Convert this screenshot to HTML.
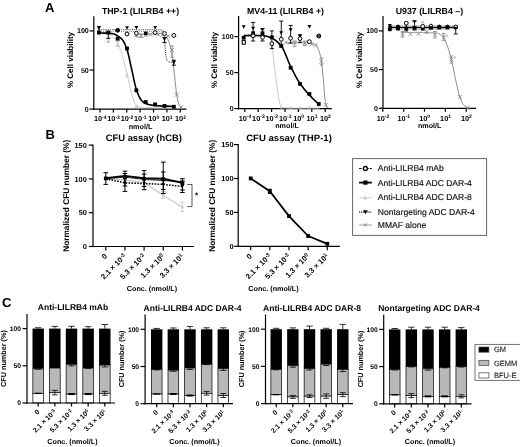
<!DOCTYPE html>
<html lang="en">
<head>
<meta charset="utf-8">
<title>Figure</title>
<style>
html,body{margin:0;padding:0;background:#fff;}
body{width:520px;height:447px;overflow:hidden;}
svg{display:block;font-family:"Liberation Sans",sans-serif;}
</style>
</head>
<body>
<svg width="520" height="447" viewBox="0 0 520 447" text-rendering="geometricPrecision">
<rect x="0" y="0" width="520" height="447" fill="#fff"/>
<text x="44.9" y="11.6" font-size="13" font-weight="bold" text-anchor="start" fill="#000" >A</text>
<text x="45.4" y="139.4" font-size="13" font-weight="bold" text-anchor="start" fill="#000" >B</text>
<text x="2" y="306.8" font-size="13" font-weight="bold" text-anchor="start" fill="#000" >C</text>
<line x1="93.8" y1="16.2" x2="93.8" y2="109.7" stroke="#000" stroke-width="1.2" />
<line x1="93.2" y1="109.1" x2="186.4" y2="109.1" stroke="#000" stroke-width="1.2" />
<line x1="89.6" y1="109.1" x2="93.8" y2="109.1" stroke="#000" stroke-width="1.2" />
<text x="88.8" y="111.6" font-size="7.1" font-weight="bold" text-anchor="end" fill="#000" >0</text>
<line x1="89.6" y1="70" x2="93.8" y2="70" stroke="#000" stroke-width="1.2" />
<text x="88.8" y="72.5" font-size="7.1" font-weight="bold" text-anchor="end" fill="#000" >50</text>
<line x1="89.6" y1="30.9" x2="93.8" y2="30.9" stroke="#000" stroke-width="1.2" />
<text x="88.8" y="33.4" font-size="7.1" font-weight="bold" text-anchor="end" fill="#000" >100</text>
<line x1="100" y1="109.1" x2="100" y2="112.5" stroke="#000" stroke-width="1.2" />
<text x="100.2" y="121.3" font-size="7.3" font-weight="bold" text-anchor="middle" fill="#000">10<tspan font-size="5" dy="-2.75">-4</tspan></text>
<line x1="113.38" y1="109.1" x2="113.38" y2="112.5" stroke="#000" stroke-width="1.2" />
<text x="113.58" y="121.3" font-size="7.3" font-weight="bold" text-anchor="middle" fill="#000">10<tspan font-size="5" dy="-2.75">-3</tspan></text>
<line x1="126.76" y1="109.1" x2="126.76" y2="112.5" stroke="#000" stroke-width="1.2" />
<text x="126.96" y="121.3" font-size="7.3" font-weight="bold" text-anchor="middle" fill="#000">10<tspan font-size="5" dy="-2.75">-2</tspan></text>
<line x1="140.14" y1="109.1" x2="140.14" y2="112.5" stroke="#000" stroke-width="1.2" />
<text x="140.34" y="121.3" font-size="7.3" font-weight="bold" text-anchor="middle" fill="#000">10<tspan font-size="5" dy="-2.75">-1</tspan></text>
<line x1="153.52" y1="109.1" x2="153.52" y2="112.5" stroke="#000" stroke-width="1.2" />
<text x="153.72" y="121.3" font-size="7.3" font-weight="bold" text-anchor="middle" fill="#000">10<tspan font-size="5" dy="-2.75">0</tspan></text>
<line x1="166.9" y1="109.1" x2="166.9" y2="112.5" stroke="#000" stroke-width="1.2" />
<text x="167.1" y="121.3" font-size="7.3" font-weight="bold" text-anchor="middle" fill="#000">10<tspan font-size="5" dy="-2.75">1</tspan></text>
<line x1="180.28" y1="109.1" x2="180.28" y2="112.5" stroke="#000" stroke-width="1.2" />
<text x="180.48" y="121.3" font-size="7.3" font-weight="bold" text-anchor="middle" fill="#000">10<tspan font-size="5" dy="-2.75">2</tspan></text>
<text x="140.5" y="13.7" font-size="8.8" font-weight="bold" text-anchor="middle" fill="#000" >THP-1 (LILRB4 ++)</text>
<text x="72.8" y="60" font-size="8.0" font-weight="bold" text-anchor="middle" fill="#000" transform="rotate(-90 72.8 60)" >% Cell viability</text>
<text x="140.5" y="128.7" font-size="7.2" font-weight="bold" text-anchor="middle" fill="#000" >nmol/L</text>
<polyline points="99.06,33.25 100.01,33.26 100.95,33.31 101.89,33.39 102.84,33.49 103.78,33.61 104.72,33.76 105.67,33.93 106.61,34.11 107.55,34.31 108.5,34.54 109.44,34.88 110.39,35.34 111.33,35.91 112.27,36.58 113.22,37.34 114.16,38.19 115.1,39.13 116.05,40.41 116.99,42.04 117.93,43.93 118.88,46.03 119.82,48.28 120.76,50.72 121.71,53.57 122.65,56.78 123.59,60.26 124.54,63.93 125.48,67.71 126.42,71.52 127.37,75.27 128.31,79.32 129.26,83.7 130.2,88.05 131.14,92.02 132.09,95.26 133.03,98.13 133.97,100.87 134.92,103.21 135.86,104.88 136.8,105.67 137.75,106.17 138.69,106.58 139.63,106.9 140.58,107.13 141.52,107.27 142.46,107.32 143.41,107.35 144.35,107.39 145.29,107.42 146.24,107.45 147.18,107.47 148.13,107.5 149.07,107.53 150.01,107.55 150.96,107.57 151.9,107.6 152.84,107.62 153.79,107.63 154.73,107.65 155.67,107.67 156.62,107.68 157.56,107.7 158.5,107.71 159.45,107.72 160.39,107.73 161.33,107.74 162.28,107.75 163.22,107.76 164.16,107.77 165.11,107.78 166.05,107.78 167,107.79 167.94,107.79 168.88,107.79 169.83,107.8 170.77,107.8 171.71,107.8 172.66,107.8 173.6,107.8" fill="none" stroke="#c9c9c9" stroke-width="1.0" stroke-linejoin="round" />
<polygon points="96.93,35.3 100.93,35.3 98.93,31.7" fill="#c9c9c9"/>
<polygon points="106.3,42.3 110.3,42.3 108.3,38.7" fill="#c9c9c9"/>
<polygon points="115.66,45.8 119.66,45.8 117.66,42.2" fill="#c9c9c9"/>
<polygon points="125.03,76.8 129.03,76.8 127.03,73.2" fill="#c9c9c9"/>
<polygon points="134.39,108.1 138.39,108.1 136.39,104.5" fill="#c9c9c9"/>
<path d="M108.3 38.5L108.3 42.5M106.2 38.5L110.4 38.5M106.2 42.5L110.4 42.5" stroke="#c9c9c9" stroke-width="0.9" fill="none"/>
<path d="M117.66 41.5L117.66 46.5M115.56 41.5L119.76 41.5M115.56 46.5L119.76 46.5" stroke="#c9c9c9" stroke-width="0.9" fill="none"/>
<polyline points="134.79,34.42 135.4,34.42 136.01,34.42 136.62,34.41 137.23,34.41 137.84,34.41 138.45,34.4 139.06,34.39 139.67,34.39 140.28,34.38 140.89,34.37 141.5,34.36 142.11,34.35 142.72,34.33 143.33,34.32 143.94,34.31 144.55,34.29 145.16,34.28 145.77,34.26 146.38,34.25 146.99,34.23 147.6,34.22 148.21,34.2 148.82,34.18 149.43,34.16 150.04,34.14 150.66,34.12 151.27,34.1 151.88,34.08 152.49,34.06 153.1,34.04 153.71,34.02 154.32,33.99 154.93,33.95 155.54,33.91 156.15,33.86 156.76,33.8 157.37,33.74 157.98,33.68 158.59,33.62 159.2,33.56 159.81,33.5 160.42,33.44 161.03,33.39 161.64,33.34 162.25,33.31 162.86,33.28 163.47,33.26 164.08,33.25 164.69,33.56 165.3,34.5 165.91,35.44 166.52,36.45 167.13,37.57 167.74,38.82 168.35,40.21 168.96,41.75 169.57,43.5 170.18,45.52 170.79,47.86 171.4,50.57 172.01,53.68 172.63,57.83 173.24,63.13 173.85,68.94 174.46,74.61 175.07,80.35 175.68,86.41 176.29,91.85 176.9,95.83 177.51,99.06 178.12,101.79 178.73,103.85 179.34,105.16 179.95,106.16 180.56,106.91 181.17,107.42 181.78,107.84 182.39,108.16 183,108.3" fill="none" stroke="#8c8c8c" stroke-width="1.0" stroke-linejoin="round" />
<path d="M134.5 33.2L138.5 37.2M134.5 37.2L138.5 33.2" stroke="#8c8c8c" stroke-width="0.9" fill="none"/>
<path d="M139 33.6L143 37.6M139 37.6L143 33.6" stroke="#8c8c8c" stroke-width="0.9" fill="none"/>
<path d="M143.6 33L147.6 37M143.6 37L147.6 33" stroke="#8c8c8c" stroke-width="0.9" fill="none"/>
<path d="M148.5 32.4L152.5 36.4M148.5 36.4L152.5 32.4" stroke="#8c8c8c" stroke-width="0.9" fill="none"/>
<path d="M156 32.6L160 36.6M156 36.6L160 32.6" stroke="#8c8c8c" stroke-width="0.9" fill="none"/>
<path d="M160.5 32.8L164.5 36.8M160.5 36.8L164.5 32.8" stroke="#8c8c8c" stroke-width="0.9" fill="none"/>
<path d="M166 34L170 38M166 38L170 34" stroke="#8c8c8c" stroke-width="0.9" fill="none"/>
<path d="M170 48L174 52M170 52L174 48" stroke="#8c8c8c" stroke-width="0.9" fill="none"/>
<path d="M174.7 92.7L178.7 96.7M174.7 96.7L178.7 92.7" stroke="#8c8c8c" stroke-width="0.9" fill="none"/>
<path d="M179 105L183 109M179 109L183 105" stroke="#8c8c8c" stroke-width="0.9" fill="none"/>
<path d="M141 34L141 37.4M139.2 34L142.8 34M139.2 37.4L142.8 37.4" stroke="#8c8c8c" stroke-width="0.9" fill="none"/>
<path d="M136.5 33.6L136.5 36.8M134.7 33.6L138.3 33.6M134.7 36.8L138.3 36.8" stroke="#8c8c8c" stroke-width="0.9" fill="none"/>
<path d="M172 46L172 57M170.2 46L173.8 46M170.2 57L173.8 57" stroke="#8c8c8c" stroke-width="0.9" fill="none"/>
<polyline points="98.93,29.73 99.87,29.73 100.82,29.73 101.77,29.73 102.71,29.73 103.66,29.73 104.6,29.73 105.55,29.73 106.49,29.73 107.44,29.73 108.38,29.73 109.33,29.73 110.27,29.73 111.22,29.73 112.16,29.73 113.11,29.73 114.05,29.73 115,29.73 115.94,29.73 116.89,29.73 117.83,29.73 118.78,29.73 119.72,29.73 120.67,29.73 121.61,29.73 122.56,29.73 123.5,29.73 124.45,29.73 125.4,29.73 126.34,29.73 127.29,29.73 128.23,29.73 129.18,29.73 130.12,29.73 131.07,29.73 132.01,29.73 132.96,29.73 133.9,29.73 134.85,29.73 135.79,29.73 136.74,29.73 137.68,29.73 138.63,29.73 139.57,29.73 140.52,29.73 141.46,29.73 142.41,29.73 143.35,29.73 144.3,29.73 145.24,29.73 146.19,29.73 147.13,29.73 148.08,29.73 149.02,29.73 149.97,29.73 150.92,29.73 151.86,29.73 152.81,29.73 153.75,29.73 154.7,29.73 155.64,29.73 156.59,29.73 157.53,29.73 158.48,29.73 159.42,29.73 160.37,29.74 161.31,29.91 162.26,30.29 163.2,30.9 164.15,36.14 165.09,47.56 166.04,56.9 166.98,60.3 167.93,61.27 168.87,61.83 169.82,62.14 170.76,62.31 171.71,62.45 172.65,62.54 173.6,62.57" fill="none" stroke="#222" stroke-width="0.95" stroke-linejoin="round" stroke-dasharray="1.1 1.1"/>
<line x1="98.93" y1="31.45" x2="165" y2="31.45" stroke="#777" stroke-width="0.8" stroke-dasharray="1 1"/>
<polyline points="98.93,33.01 99.88,33.01 100.83,33.02 101.77,33.04 102.72,33.06 103.67,33.08 104.62,33.11 105.57,33.14 106.52,33.17 107.47,33.21 108.41,33.25 109.36,33.31 110.31,33.4 111.26,33.51 112.21,33.65 113.16,33.82 114.1,34.11 115.05,34.51 116,35.01 116.95,35.56 117.9,36.12 118.85,36.71 119.8,37.37 120.74,38.12 121.69,39.01 122.64,40.07 123.59,41.49 124.54,43.34 125.49,45.54 126.43,48.01 127.38,50.75 128.33,54.25 129.28,58.34 130.23,62.72 131.18,67.04 132.13,71.2 133.07,75.67 134.02,80.17 134.97,84.4 135.92,88.04 136.87,90.91 137.82,93.47 138.76,95.77 139.71,97.73 140.66,99.28 141.61,100.43 142.56,101.43 143.51,102.29 144.46,102.98 145.4,103.49 146.35,103.82 147.3,104.11 148.25,104.37 149.2,104.6 150.15,104.8 151.09,104.98 152.04,105.14 152.99,105.27 153.94,105.38 154.89,105.48 155.84,105.57 156.79,105.64 157.73,105.71 158.68,105.77 159.63,105.83 160.58,105.88 161.53,105.93 162.48,105.97 163.42,106.01 164.37,106.05 165.32,106.08 166.27,106.11 167.22,106.14 168.17,106.17 169.12,106.2 170.06,106.22 171.01,106.24 171.96,106.26 172.91,106.27 173.86,106.28" fill="none" stroke="#000" stroke-width="1.6" stroke-linejoin="round" />
<polygon points="96.98,26.14 100.88,26.14 98.93,29.65" fill="#000"/>
<polygon points="125.08,26.14 128.98,26.14 127.03,29.65" fill="#000"/>
<polygon points="134.44,25.95 138.34,25.95 136.39,29.45" fill="#000"/>
<polygon points="153.18,25.95 157.08,25.95 155.13,29.45" fill="#000"/>
<path d="M164.49 37.6L164.49 42.4M162.39 37.6L166.59 37.6M162.39 42.4L166.59 42.4" stroke="#000" stroke-width="0.9" fill="none"/>
<polygon points="162.54,37.54 166.44,37.54 164.49,41.05" fill="#000"/>
<path d="M173.86 60.3L173.86 65.2M171.76 60.3L175.96 60.3M171.76 65.2L175.96 65.2" stroke="#000" stroke-width="0.9" fill="none"/>
<polygon points="171.91,60.84 175.81,60.84 173.86,64.36" fill="#000"/>
<path d="M108.3 32L108.3 38.3M106.2 32L110.4 32M106.2 38.3L110.4 38.3" stroke="#000" stroke-width="0.9" fill="none"/>
<path d="M98.93 26.6L98.93 33M97.13 26.6L100.73 26.6M97.13 33L100.73 33" stroke="#000" stroke-width="0.9" fill="none"/>
<circle cx="117.66" cy="30.3" r="1.9" fill="#000" stroke="#000" stroke-width="1.0"/>
<circle cx="127.03" cy="34" r="1.9" fill="#fff" stroke="#000" stroke-width="1.0"/>
<circle cx="136.39" cy="33.2" r="1.9" fill="#fff" stroke="#000" stroke-width="1.0"/>
<circle cx="155.13" cy="32.6" r="1.9" fill="#fff" stroke="#000" stroke-width="1.0"/>
<circle cx="164.49" cy="33.5" r="1.9" fill="#fff" stroke="#000" stroke-width="1.0"/>
<circle cx="173.86" cy="35.4" r="1.9" fill="#fff" stroke="#000" stroke-width="1.0"/>
<rect x="143.96" y="31.6" width="3.6" height="3.6" fill="#000"/>
<rect x="97.03" y="30.56" width="3.8" height="3.8" fill="#000"/>
<rect x="106.4" y="30.56" width="3.8" height="3.8" fill="#000"/>
<rect x="115.76" y="36.82" width="3.8" height="3.8" fill="#000"/>
<rect x="125.13" y="46.59" width="3.8" height="3.8" fill="#000"/>
<rect x="134.49" y="88.43" width="3.8" height="3.8" fill="#000"/>
<rect x="143.86" y="100.16" width="3.8" height="3.8" fill="#000"/>
<rect x="153.23" y="102.51" width="3.8" height="3.8" fill="#000"/>
<rect x="162.59" y="104.07" width="3.8" height="3.8" fill="#000"/>
<rect x="171.96" y="104.85" width="3.8" height="3.8" fill="#000"/>
<line x1="238.6" y1="15.9" x2="238.6" y2="109.2" stroke="#000" stroke-width="1.2" />
<line x1="238" y1="108.6" x2="331.8" y2="108.6" stroke="#000" stroke-width="1.2" />
<line x1="234.4" y1="108.6" x2="238.6" y2="108.6" stroke="#000" stroke-width="1.2" />
<text x="233.6" y="111.1" font-size="7.1" font-weight="bold" text-anchor="end" fill="#000" >0</text>
<line x1="234.4" y1="72.6" x2="238.6" y2="72.6" stroke="#000" stroke-width="1.2" />
<text x="233.6" y="75.1" font-size="7.1" font-weight="bold" text-anchor="end" fill="#000" >50</text>
<line x1="234.4" y1="36.6" x2="238.6" y2="36.6" stroke="#000" stroke-width="1.2" />
<text x="233.6" y="39.1" font-size="7.1" font-weight="bold" text-anchor="end" fill="#000" >100</text>
<line x1="244.8" y1="108.6" x2="244.8" y2="112" stroke="#000" stroke-width="1.2" />
<text x="245" y="120.8" font-size="7.3" font-weight="bold" text-anchor="middle" fill="#000">10<tspan font-size="5" dy="-2.75">-4</tspan></text>
<line x1="258.2" y1="108.6" x2="258.2" y2="112" stroke="#000" stroke-width="1.2" />
<text x="258.4" y="120.8" font-size="7.3" font-weight="bold" text-anchor="middle" fill="#000">10<tspan font-size="5" dy="-2.75">-3</tspan></text>
<line x1="271.6" y1="108.6" x2="271.6" y2="112" stroke="#000" stroke-width="1.2" />
<text x="271.8" y="120.8" font-size="7.3" font-weight="bold" text-anchor="middle" fill="#000">10<tspan font-size="5" dy="-2.75">-2</tspan></text>
<line x1="285" y1="108.6" x2="285" y2="112" stroke="#000" stroke-width="1.2" />
<text x="285.2" y="120.8" font-size="7.3" font-weight="bold" text-anchor="middle" fill="#000">10<tspan font-size="5" dy="-2.75">-1</tspan></text>
<line x1="298.4" y1="108.6" x2="298.4" y2="112" stroke="#000" stroke-width="1.2" />
<text x="298.6" y="120.8" font-size="7.3" font-weight="bold" text-anchor="middle" fill="#000">10<tspan font-size="5" dy="-2.75">0</tspan></text>
<line x1="311.8" y1="108.6" x2="311.8" y2="112" stroke="#000" stroke-width="1.2" />
<text x="312" y="120.8" font-size="7.3" font-weight="bold" text-anchor="middle" fill="#000">10<tspan font-size="5" dy="-2.75">1</tspan></text>
<line x1="325.2" y1="108.6" x2="325.2" y2="112" stroke="#000" stroke-width="1.2" />
<text x="325.4" y="120.8" font-size="7.3" font-weight="bold" text-anchor="middle" fill="#000">10<tspan font-size="5" dy="-2.75">2</tspan></text>
<text x="285.5" y="13.7" font-size="8.8" font-weight="bold" text-anchor="middle" fill="#000" >MV4-11 (LILRB4 +)</text>
<text x="216.6" y="60" font-size="8.0" font-weight="bold" text-anchor="middle" fill="#000" transform="rotate(-90 216.6 60)" >% Cell viability</text>
<text x="287" y="128.2" font-size="7.2" font-weight="bold" text-anchor="middle" fill="#000" >nmol/L</text>
<polyline points="243.73,36.3 244.67,36.3 245.61,36.3 246.55,36.3 247.49,36.3 248.43,36.31 249.37,36.31 250.31,36.31 251.25,36.32 252.19,36.32 253.13,36.33 254.07,36.33 255.01,36.34 255.95,36.35 256.89,36.36 257.83,36.37 258.77,36.38 259.71,36.39 260.65,36.4 261.59,36.42 262.53,36.43 263.47,36.45 264.41,36.47 265.35,36.49 266.29,36.51 267.23,36.65 268.17,36.95 269.11,37.41 270.05,38.05 270.99,40.45 271.93,44.88 272.87,52.32 273.81,61.46 274.75,69.54 275.69,76.72 276.63,83.79 277.57,90.73 278.51,96.64 279.45,101.8 280.39,104.91 281.33,106.6 282.27,107.53 283.21,107.7 284.15,107.81 285.09,107.91 286.03,107.98 286.97,108.03 287.92,108.07 288.86,108.09 289.8,108.1 290.74,108.1 291.68,108.1 292.62,108.1 293.56,108.1 294.5,108.1 295.44,108.1 296.38,108.1 297.32,108.1 298.26,108.1 299.2,108.1 300.14,108.1 301.08,108.1 302.02,108.1 302.96,108.1 303.9,108.1 304.84,108.1 305.78,108.1 306.72,108.1 307.66,108.1 308.6,108.1 309.54,108.1 310.48,108.1 311.42,108.1 312.36,108.1 313.3,108.1 314.24,108.1 315.18,108.1 316.12,108.1 317.06,108.1 318,108.1" fill="none" stroke="#c9c9c9" stroke-width="1.0" stroke-linejoin="round" />
<polygon points="279.75,108.55 282.75,108.55 281.25,105.85" fill="#c9c9c9"/>
<polygon points="289.13,108.55 292.13,108.55 290.63,105.85" fill="#c9c9c9"/>
<polygon points="298.51,108.55 301.51,108.55 300.01,105.85" fill="#c9c9c9"/>
<polygon points="307.89,108.55 310.89,108.55 309.39,105.85" fill="#c9c9c9"/>
<polygon points="317.27,108.55 320.27,108.55 318.77,105.85" fill="#c9c9c9"/>
<polyline points="286,42.6 286.53,42.6 287.06,42.6 287.59,42.6 288.13,42.61 288.66,42.61 289.19,42.61 289.72,42.62 290.25,42.62 290.78,42.63 291.32,42.63 291.85,42.64 292.38,42.65 292.91,42.66 293.44,42.66 293.97,42.67 294.51,42.68 295.04,42.69 295.57,42.7 296.1,42.71 296.63,42.72 297.16,42.73 297.7,42.75 298.23,42.76 298.76,42.77 299.29,42.78 299.82,42.8 300.35,42.81 300.89,42.82 301.42,42.84 301.95,42.86 302.48,42.88 303.01,42.91 303.54,42.93 304.08,42.96 304.61,42.99 305.14,43.03 305.67,43.06 306.2,43.1 306.73,43.14 307.27,43.19 307.8,43.24 308.33,43.29 308.86,43.34 309.39,43.4 309.92,43.46 310.46,43.53 310.99,43.6 311.52,43.68 312.05,43.79 312.58,43.92 313.11,44.08 313.65,44.27 314.18,44.49 314.71,44.75 315.24,45.03 315.77,45.35 316.3,45.75 316.84,46.4 317.37,47.27 317.9,48.34 318.43,49.57 318.96,50.9 319.49,52.44 320.03,54.35 320.56,56.64 321.09,59.34 321.62,62.47 322.15,66.86 322.68,72.29 323.22,78.09 323.75,84.41 324.28,91.37 324.81,97.09 325.34,101.46 325.87,104.59 326.41,105.99 326.94,107.04 327.47,107.74 328,108" fill="none" stroke="#8c8c8c" stroke-width="1.0" stroke-linejoin="round" />
<path d="M284 40.5L288 44.5M284 44.5L288 40.5" stroke="#8c8c8c" stroke-width="0.9" fill="none"/>
<path d="M292.7 41.2L296.7 45.2M292.7 45.2L296.7 41.2" stroke="#8c8c8c" stroke-width="0.9" fill="none"/>
<path d="M302.8 41.2L306.8 45.2M302.8 45.2L306.8 41.2" stroke="#8c8c8c" stroke-width="0.9" fill="none"/>
<path d="M309.7 42.3L313.7 46.3M309.7 46.3L313.7 42.3" stroke="#8c8c8c" stroke-width="0.9" fill="none"/>
<path d="M313.9 43.2L317.9 47.2M313.9 47.2L317.9 43.2" stroke="#8c8c8c" stroke-width="0.9" fill="none"/>
<path d="M319.5 59.7L323.5 63.7M319.5 63.7L323.5 59.7" stroke="#8c8c8c" stroke-width="0.9" fill="none"/>
<path d="M324 102.8L328 106.8M324 106.8L328 102.8" stroke="#8c8c8c" stroke-width="0.9" fill="none"/>
<path d="M294.7 41L294.7 46.6M292.9 41L296.5 41M292.9 46.6L296.5 46.6" stroke="#8c8c8c" stroke-width="0.9" fill="none"/>
<path d="M304.8 41L304.8 45.5M303 41L306.6 41M303 45.5L306.6 45.5" stroke="#8c8c8c" stroke-width="0.9" fill="none"/>
<path d="M321.5 58L321.5 65M319.7 58L323.3 58M319.7 65L323.3 65" stroke="#8c8c8c" stroke-width="0.9" fill="none"/>
<line x1="243.73" y1="36.6" x2="281.25" y2="36.6" stroke="#999" stroke-width="0.7" stroke-dasharray="1 1"/>
<polyline points="243.73,35.5 244.68,35.48 245.63,35.46 246.58,35.44 247.53,35.43 248.48,35.42 249.43,35.41 250.38,35.41 251.33,35.4 252.28,35.4 253.23,35.4 254.18,35.4 255.13,35.41 256.08,35.42 257.03,35.44 257.98,35.46 258.93,35.48 259.88,35.51 260.83,35.54 261.78,35.57 262.73,35.61 263.68,35.7 264.63,35.84 265.58,36.03 266.52,36.27 267.47,36.55 268.42,36.86 269.37,37.21 270.32,37.57 271.27,37.95 272.22,38.35 273.17,38.83 274.12,39.38 275.07,40.02 276.02,40.74 276.97,41.53 277.92,42.4 278.87,43.34 279.82,44.36 280.77,45.44 281.72,46.62 282.67,48.15 283.62,49.98 284.57,52.06 285.52,54.32 286.47,56.67 287.42,59.07 288.37,61.43 289.32,63.69 290.27,65.78 291.22,67.68 292.17,69.55 293.12,71.42 294.07,73.25 295.02,75.05 295.97,76.81 296.92,78.51 297.87,80.14 298.82,81.69 299.77,83.15 300.72,84.52 301.67,85.84 302.62,87.1 303.57,88.32 304.52,89.49 305.47,90.62 306.42,91.72 307.37,92.79 308.32,93.84 309.27,94.87 310.22,95.89 311.17,96.88 312.12,97.86 313.07,98.81 314.02,99.74 314.97,100.64 315.92,101.52 316.87,102.37 317.82,103.2 318.77,104" fill="none" stroke="#000" stroke-width="1.6" stroke-linejoin="round" />
<path d="M253.11 22.4L253.11 41M251.01 22.4L255.21 22.4M251.01 41L255.21 41" stroke="#000" stroke-width="0.9" fill="none"/>
<path d="M262.49 28.6L262.49 41M260.39 28.6L264.59 28.6M260.39 41L264.59 41" stroke="#000" stroke-width="0.9" fill="none"/>
<path d="M271.87 30.9L271.87 48.6M269.77 30.9L273.97 30.9M269.77 48.6L273.97 48.6" stroke="#000" stroke-width="0.9" fill="none"/>
<path d="M281.25 21.1L281.25 47M279.15 21.1L283.35 21.1M279.15 47L283.35 47" stroke="#000" stroke-width="0.9" fill="none"/>
<path d="M290.63 25.4L290.63 43.2M288.53 25.4L292.73 25.4M288.53 43.2L292.73 43.2" stroke="#000" stroke-width="0.9" fill="none"/>
<path d="M300.01 34.7L300.01 42.4M297.91 34.7L302.11 34.7M297.91 42.4L302.11 42.4" stroke="#000" stroke-width="0.9" fill="none"/>
<polygon points="241.78,25.25 245.68,25.25 243.73,28.75" fill="#000"/>
<polygon points="251.16,26.75 255.06,26.75 253.11,30.25" fill="#000"/>
<polygon points="260.54,28.25 264.44,28.25 262.49,31.75" fill="#000"/>
<polygon points="279.3,31.25 283.2,31.25 281.25,34.76" fill="#000"/>
<polygon points="288.68,28.25 292.58,28.25 290.63,31.75" fill="#000"/>
<polygon points="298.06,34.74 301.96,34.74 300.01,38.26" fill="#000"/>
<polygon points="307.44,24.95 311.34,24.95 309.39,28.45" fill="#000"/>
<rect x="241.83" y="35.9" width="3.8" height="3.8" fill="#000"/>
<rect x="251.21" y="31.3" width="3.8" height="3.8" fill="#000"/>
<rect x="260.59" y="31.3" width="3.8" height="3.8" fill="#000"/>
<rect x="269.97" y="35.4" width="3.8" height="3.8" fill="#000"/>
<rect x="279.35" y="43.9" width="3.8" height="3.8" fill="#000"/>
<rect x="288.73" y="65.8" width="3.8" height="3.8" fill="#000"/>
<rect x="298.11" y="82" width="3.8" height="3.8" fill="#000"/>
<rect x="307.49" y="92.1" width="3.8" height="3.8" fill="#000"/>
<rect x="316.87" y="102.1" width="3.8" height="3.8" fill="#000"/>
<rect x="242.13" y="40.6" width="3.2" height="3.6" fill="#fff" stroke="#000" stroke-width="1"/>
<circle cx="253.11" cy="35.8" r="1.9" fill="#fff" stroke="#000" stroke-width="1.0"/>
<circle cx="262.49" cy="37.4" r="1.9" fill="#fff" stroke="#000" stroke-width="1.0"/>
<circle cx="271.87" cy="43.7" r="1.9" fill="#fff" stroke="#000" stroke-width="1.0"/>
<circle cx="281.25" cy="39.3" r="1.9" fill="#fff" stroke="#000" stroke-width="1.0"/>
<circle cx="290.63" cy="38.3" r="1.9" fill="#fff" stroke="#000" stroke-width="1.0"/>
<circle cx="300.01" cy="38.6" r="1.9" fill="#fff" stroke="#000" stroke-width="1.0"/>
<circle cx="309.39" cy="41.7" r="1.9" fill="#fff" stroke="#000" stroke-width="1.0"/>
<circle cx="318.77" cy="36" r="2" fill="#777" stroke="#000" stroke-width="1.0"/>
<line x1="316.97" y1="36" x2="320.57" y2="36" stroke="#000" stroke-width="0.8" />
<line x1="383" y1="15.9" x2="383" y2="108.9" stroke="#000" stroke-width="1.2" />
<line x1="382.4" y1="108.3" x2="476" y2="108.3" stroke="#000" stroke-width="1.2" />
<line x1="378.8" y1="108.3" x2="383" y2="108.3" stroke="#000" stroke-width="1.2" />
<text x="378" y="110.8" font-size="7.1" font-weight="bold" text-anchor="end" fill="#000" >0</text>
<line x1="378.8" y1="69.6" x2="383" y2="69.6" stroke="#000" stroke-width="1.2" />
<text x="378" y="72.1" font-size="7.1" font-weight="bold" text-anchor="end" fill="#000" >50</text>
<line x1="378.8" y1="30.9" x2="383" y2="30.9" stroke="#000" stroke-width="1.2" />
<text x="378" y="33.4" font-size="7.1" font-weight="bold" text-anchor="end" fill="#000" >100</text>
<line x1="382.8" y1="108.3" x2="382.8" y2="111.7" stroke="#000" stroke-width="1.2" />
<text x="383" y="120.5" font-size="7.3" font-weight="bold" text-anchor="middle" fill="#000">10<tspan font-size="5" dy="-2.75">-2</tspan></text>
<line x1="403.65" y1="108.3" x2="403.65" y2="111.7" stroke="#000" stroke-width="1.2" />
<text x="403.85" y="120.5" font-size="7.3" font-weight="bold" text-anchor="middle" fill="#000">10<tspan font-size="5" dy="-2.75">-1</tspan></text>
<line x1="424.5" y1="108.3" x2="424.5" y2="111.7" stroke="#000" stroke-width="1.2" />
<text x="424.7" y="120.5" font-size="7.3" font-weight="bold" text-anchor="middle" fill="#000">10<tspan font-size="5" dy="-2.75">0</tspan></text>
<line x1="445.35" y1="108.3" x2="445.35" y2="111.7" stroke="#000" stroke-width="1.2" />
<text x="445.55" y="120.5" font-size="7.3" font-weight="bold" text-anchor="middle" fill="#000">10<tspan font-size="5" dy="-2.75">1</tspan></text>
<line x1="466.2" y1="108.3" x2="466.2" y2="111.7" stroke="#000" stroke-width="1.2" />
<text x="466.4" y="120.5" font-size="7.3" font-weight="bold" text-anchor="middle" fill="#000">10<tspan font-size="5" dy="-2.75">2</tspan></text>
<text x="429.4" y="13.7" font-size="8.8" font-weight="bold" text-anchor="middle" fill="#000" >U937 (LILRB4 &#8211;)</text>
<text x="361.6" y="60" font-size="8.0" font-weight="bold" text-anchor="middle" fill="#000" transform="rotate(-90 361.6 60)" >% Cell viability</text>
<text x="429.7" y="127.9" font-size="7.2" font-weight="bold" text-anchor="middle" fill="#000" >nmol/L</text>
<polyline points="402,32.6 402.86,32.57 403.72,32.55 404.58,32.53 405.44,32.51 406.3,32.49 407.16,32.47 408.03,32.46 408.89,32.45 409.75,32.44 410.61,32.43 411.47,32.42 412.33,32.42 413.19,32.41 414.05,32.41 414.91,32.4 415.77,32.4 416.63,32.4 417.49,32.4 418.35,32.4 419.22,32.4 420.08,32.4 420.94,32.4 421.8,32.41 422.66,32.42 423.52,32.43 424.38,32.45 425.24,32.47 426.1,32.5 426.96,32.53 427.82,32.56 428.68,32.6 429.54,32.64 430.41,32.69 431.27,32.74 432.13,32.79 432.99,32.85 433.85,32.91 434.71,32.98 435.57,33.06 436.43,33.21 437.29,33.42 438.15,33.68 439.01,33.99 439.87,34.35 440.73,34.79 441.59,35.41 442.46,36.2 443.32,37.15 444.18,38.36 445.04,40.06 445.9,42.12 446.76,44.36 447.62,46.71 448.48,49.32 449.34,52.18 450.2,55.24 451.06,58.48 451.92,61.99 452.78,65.94 453.65,70.14 454.51,74.37 455.37,78.41 456.23,82.31 457.09,86.31 457.95,90.2 458.81,93.72 459.67,96.63 460.53,98.98 461.39,101.1 462.25,102.92 463.11,104.33 463.97,105.3 464.84,106.11 465.7,106.78 466.56,107.31 467.42,107.67 468.28,107.93 469.14,108.12 470,108.2" fill="none" stroke="#8c8c8c" stroke-width="1.0" stroke-linejoin="round" />
<path d="M400.5 32L404.5 36M400.5 36L404.5 32" stroke="#8c8c8c" stroke-width="0.9" fill="none"/>
<path d="M408.4 32.2L412.4 36.2M408.4 36.2L412.4 32.2" stroke="#8c8c8c" stroke-width="0.9" fill="none"/>
<path d="M416.6 31.8L420.6 35.8M416.6 35.8L420.6 31.8" stroke="#8c8c8c" stroke-width="0.9" fill="none"/>
<path d="M424.6 29.8L428.6 33.8M424.6 33.8L428.6 29.8" stroke="#8c8c8c" stroke-width="0.9" fill="none"/>
<path d="M433 32.7L437 36.7M433 36.7L437 32.7" stroke="#8c8c8c" stroke-width="0.9" fill="none"/>
<path d="M441.6 35L445.6 39M441.6 39L445.6 35" stroke="#8c8c8c" stroke-width="0.9" fill="none"/>
<path d="M449.3 57.4L453.3 61.4M449.3 61.4L453.3 57.4" stroke="#8c8c8c" stroke-width="0.9" fill="none"/>
<path d="M457.8 95L461.8 99M457.8 99L461.8 95" stroke="#8c8c8c" stroke-width="0.9" fill="none"/>
<path d="M465.5 105.9L469.5 109.9M465.5 109.9L469.5 105.9" stroke="#8c8c8c" stroke-width="0.9" fill="none"/>
<path d="M402.5 31.5L402.5 37.2M400.7 31.5L404.3 31.5M400.7 37.2L404.3 37.2" stroke="#8c8c8c" stroke-width="0.9" fill="none"/>
<path d="M435 31.5L435 38M433.2 31.5L436.8 31.5M433.2 38L436.8 38" stroke="#8c8c8c" stroke-width="0.9" fill="none"/>
<path d="M443.6 33.5L443.6 40.5M441.8 33.5L445.4 33.5M441.8 40.5L445.4 40.5" stroke="#8c8c8c" stroke-width="0.9" fill="none"/>
<path d="M451.3 56L451.3 63M449.5 56L453.1 56M449.5 63L453.1 63" stroke="#8c8c8c" stroke-width="0.9" fill="none"/>
<polygon points="424.8,33.62 428.4,33.62 426.6,30.38" fill="#8c8c8c"/>
<polygon points="445.4,36.94 448.6,36.94 447,34.06" fill="#c9c9c9"/>
<polygon points="453.3,58.53 456.7,58.53 455,55.47" fill="#c9c9c9"/>
<line x1="389.8" y1="29.4" x2="447" y2="29.4" stroke="#c9c9c9" stroke-width="0.9" />
<line x1="389.8" y1="27.5" x2="455.72" y2="27.5" stroke="#000" stroke-width="1.5" />
<line x1="389.8" y1="25.8" x2="455.72" y2="25.8" stroke="#666" stroke-width="0.8" stroke-dasharray="1 1"/>
<polygon points="387.85,24.05 391.75,24.05 389.8,27.55" fill="#000"/>
<polygon points="412.57,20.14 416.47,20.14 414.52,23.65" fill="#000"/>
<polygon points="404.33,22.75 408.23,22.75 406.28,26.25" fill="#000"/>
<path d="M414.52 21L414.52 30M412.42 21L416.62 21M412.42 30L416.62 30" stroke="#000" stroke-width="0.9" fill="none"/>
<path d="M406.28 23L406.28 31M404.48 23L408.08 23M404.48 31L408.08 31" stroke="#000" stroke-width="0.9" fill="none"/>
<path d="M455.72 27L455.72 34M453.62 27L457.82 27M453.62 34L457.82 34" stroke="#000" stroke-width="0.9" fill="none"/>
<rect x="387.9" y="27.4" width="3.8" height="3.8" fill="#000"/>
<rect x="396.14" y="26.7" width="3.8" height="3.8" fill="#000"/>
<rect x="404.38" y="26.7" width="3.8" height="3.8" fill="#000"/>
<rect x="412.62" y="25.9" width="3.8" height="3.8" fill="#000"/>
<rect x="420.86" y="26.7" width="3.8" height="3.8" fill="#000"/>
<rect x="429.1" y="25.9" width="3.8" height="3.8" fill="#000"/>
<rect x="437.34" y="25.7" width="3.8" height="3.8" fill="#000"/>
<rect x="445.58" y="25.6" width="3.8" height="3.8" fill="#000"/>
<rect x="453.82" y="25.4" width="3.8" height="3.8" fill="#000"/>
<circle cx="406.28" cy="23.2" r="1.9" fill="#fff" stroke="#000" stroke-width="1.0"/>
<circle cx="398.04" cy="27" r="1.9" fill="#000" stroke="#000" stroke-width="1.0"/>
<circle cx="390.1" cy="26.5" r="1.3" fill="#000" stroke="#000" stroke-width="1.0"/>
<circle cx="422.76" cy="26.3" r="1.9" fill="#fff" stroke="#000" stroke-width="1.0"/>
<path d="M421.26 20.8L424.26 23.8M421.26 23.8L424.26 20.8" stroke="#aaa" stroke-width="0.9" fill="none"/>
<circle cx="431" cy="26.8" r="1.7" fill="#000" stroke="#000" stroke-width="1.0"/>
<circle cx="439.24" cy="26.8" r="1.7" fill="#000" stroke="#000" stroke-width="1.0"/>
<circle cx="447.48" cy="26.8" r="1.7" fill="#000" stroke="#000" stroke-width="1.0"/>
<circle cx="431" cy="25.6" r="1.4" fill="#fff" stroke="#000" stroke-width="1.0"/>
<circle cx="455.72" cy="26.6" r="1.5" fill="#fff" stroke="#000" stroke-width="1.0"/>
<polygon points="454.12,27.06 457.32,27.06 455.72,29.94" fill="#000"/>
<line x1="93" y1="144.5" x2="93" y2="247.1" stroke="#000" stroke-width="1.2" />
<line x1="92.4" y1="246.5" x2="194" y2="246.5" stroke="#000" stroke-width="1.2" />
<line x1="88.8" y1="246.5" x2="93" y2="246.5" stroke="#000" stroke-width="1.2" />
<text x="86.8" y="249.1" font-size="7.35" font-weight="bold" text-anchor="end" fill="#000" >0</text>
<line x1="88.8" y1="212.7" x2="93" y2="212.7" stroke="#000" stroke-width="1.2" />
<text x="86.8" y="215.3" font-size="7.35" font-weight="bold" text-anchor="end" fill="#000" >50</text>
<line x1="88.8" y1="178.9" x2="93" y2="178.9" stroke="#000" stroke-width="1.2" />
<text x="86.8" y="181.5" font-size="7.35" font-weight="bold" text-anchor="end" fill="#000" >100</text>
<line x1="88.8" y1="145.1" x2="93" y2="145.1" stroke="#000" stroke-width="1.2" />
<text x="86.8" y="147.7" font-size="7.35" font-weight="bold" text-anchor="end" fill="#000" >150</text>
<line x1="105.8" y1="246.5" x2="105.8" y2="250.5" stroke="#000" stroke-width="1.2" />
<text x="107.6" y="256.9" font-size="7.5" font-weight="bold" text-anchor="end" fill="#000" transform="rotate(-45 107.6 256.9)" >0</text>
<line x1="124.95" y1="246.5" x2="124.95" y2="250.5" stroke="#000" stroke-width="1.2" />
<text x="126.75" y="256.9" font-size="7.5" font-weight="bold" text-anchor="end" fill="#000" transform="rotate(-45 126.75 256.9)" >2.1 &#215; 10<tspan font-size="5.5" dy="-2.2">-3</tspan></text>
<line x1="144.1" y1="246.5" x2="144.1" y2="250.5" stroke="#000" stroke-width="1.2" />
<text x="145.9" y="256.9" font-size="7.5" font-weight="bold" text-anchor="end" fill="#000" transform="rotate(-45 145.9 256.9)" >5.3 &#215; 10<tspan font-size="5.5" dy="-2.2">-2</tspan></text>
<line x1="163.25" y1="246.5" x2="163.25" y2="250.5" stroke="#000" stroke-width="1.2" />
<text x="165.05" y="256.9" font-size="7.5" font-weight="bold" text-anchor="end" fill="#000" transform="rotate(-45 165.05 256.9)" >1.3 &#215; 10<tspan font-size="5.5" dy="-2.2">0</tspan></text>
<line x1="182.4" y1="246.5" x2="182.4" y2="250.5" stroke="#000" stroke-width="1.2" />
<text x="184.2" y="256.9" font-size="7.5" font-weight="bold" text-anchor="end" fill="#000" transform="rotate(-45 184.2 256.9)" >3.3 &#215; 10<tspan font-size="5.5" dy="-2.2">1</tspan></text>
<text x="143.8" y="141" font-size="9.4" font-weight="bold" text-anchor="middle" fill="#000" >CFU assay (hCB)</text>
<text x="68.6" y="195.8" font-size="8.3" font-weight="bold" text-anchor="middle" fill="#000" transform="rotate(-90 68.6 195.8)" >Normalized CFU number (%)</text>
<text x="152" y="291.1" font-size="7.2" font-weight="bold" text-anchor="middle" fill="#000" >Conc. (nmol/L)</text>
<polyline points="105.8,179 124.95,180 144.1,182.6 163.25,195.2 182.4,207.3" fill="none" stroke="#c9c9c9" stroke-width="1.3" stroke-linejoin="round" />
<path d="M163.25 191.5L163.25 198.5M161.15 191.5L165.35 191.5M161.15 198.5L165.35 198.5" stroke="#c9c9c9" stroke-width="0.9" fill="none"/>
<path d="M182.4 202L182.4 211.6M180.3 202L184.5 202M180.3 211.6L184.5 211.6" stroke="#c9c9c9" stroke-width="0.9" fill="none"/>
<polygon points="161.45,196.82 165.05,196.82 163.25,193.58" fill="#c9c9c9"/>
<polygon points="180.6,208.22 184.2,208.22 182.4,204.98" fill="#c9c9c9"/>
<path d="M105.8 172.7L105.8 184.4M103.5 172.7L108.1 172.7M103.5 184.4L108.1 184.4" stroke="#000" stroke-width="1.0" fill="none"/>
<path d="M124.95 171.2L124.95 191.4M122.65 171.2L127.25 171.2M122.65 191.4L127.25 191.4" stroke="#000" stroke-width="1.0" fill="none"/>
<path d="M144.1 170.6L144.1 189.7M141.8 170.6L146.4 170.6M141.8 189.7L146.4 189.7" stroke="#000" stroke-width="1.0" fill="none"/>
<path d="M163.25 162.1L163.25 193.5M160.95 162.1L165.55 162.1M160.95 193.5L165.55 193.5" stroke="#000" stroke-width="1.0" fill="none"/>
<path d="M182.4 178.7L182.4 192.5M180.1 178.7L184.7 178.7M180.1 192.5L184.7 192.5" stroke="#000" stroke-width="1.0" fill="none"/>
<path d="M124.95 173.5L124.95 186M122.65 173.5L127.25 173.5M122.65 186L127.25 186" stroke="#000" stroke-width="1.0" fill="none"/>
<path d="M144.1 174L144.1 186.5M141.8 174L146.4 174M141.8 186.5L146.4 186.5" stroke="#000" stroke-width="1.0" fill="none"/>
<path d="M163.25 172L163.25 189.5M160.95 172L165.55 172M160.95 189.5L165.55 189.5" stroke="#000" stroke-width="1.0" fill="none"/>
<path d="M182.4 181L182.4 190M180.1 181L184.7 181M180.1 190L184.7 190" stroke="#000" stroke-width="1.0" fill="none"/>
<polyline points="105.8,178.8 124.95,182.9 144.1,183.5 163.25,184.4 182.4,186.5" fill="none" stroke="#000" stroke-width="1.5" stroke-linejoin="round" stroke-dasharray="1.6 1.3"/>
<polyline points="105.8,178.6 124.95,177.2 144.1,179.4 163.25,180.6 182.4,181.6" fill="none" stroke="#333" stroke-width="1.0" stroke-linejoin="round" />
<polyline points="105.8,178.2 124.95,175.9 144.1,178.2 163.25,178.7 182.4,182.9" fill="none" stroke="#000" stroke-width="1.9" stroke-linejoin="round" />
<rect x="103.9" y="176.5" width="3.8" height="3.8" fill="#000"/>
<rect x="123.05" y="175.6" width="3.8" height="3.8" fill="#000"/>
<rect x="142.2" y="176.9" width="3.8" height="3.8" fill="#000"/>
<rect x="161.35" y="177.4" width="3.8" height="3.8" fill="#000"/>
<rect x="180.5" y="181.3" width="3.8" height="3.8" fill="#000"/>
<polygon points="123.25,181.47 126.65,181.47 124.95,184.53" fill="#000"/>
<polygon points="142.4,182.07 145.8,182.07 144.1,185.13" fill="#000"/>
<polygon points="161.55,183.07 164.95,183.07 163.25,186.13" fill="#000"/>
<polygon points="180.7,185.07 184.1,185.07 182.4,188.13" fill="#000"/>
<path d="M187.2 184.5H192V206.6H187.2" fill="none" stroke="#444" stroke-width="0.9"/>
<text x="196.6" y="198.3" font-size="8" font-weight="bold" text-anchor="middle" fill="#000" >*</text>
<line x1="238.2" y1="144" x2="238.2" y2="246.9" stroke="#000" stroke-width="1.2" />
<line x1="237.6" y1="246.3" x2="339.8" y2="246.3" stroke="#000" stroke-width="1.2" />
<line x1="234" y1="246.3" x2="238.2" y2="246.3" stroke="#000" stroke-width="1.2" />
<text x="233.5" y="248.9" font-size="7.35" font-weight="bold" text-anchor="end" fill="#000" >0</text>
<line x1="234" y1="212.4" x2="238.2" y2="212.4" stroke="#000" stroke-width="1.2" />
<text x="233.5" y="215" font-size="7.35" font-weight="bold" text-anchor="end" fill="#000" >50</text>
<line x1="234" y1="178.5" x2="238.2" y2="178.5" stroke="#000" stroke-width="1.2" />
<text x="233.5" y="181.1" font-size="7.35" font-weight="bold" text-anchor="end" fill="#000" >100</text>
<line x1="234" y1="144.6" x2="238.2" y2="144.6" stroke="#000" stroke-width="1.2" />
<text x="233.5" y="147.2" font-size="7.35" font-weight="bold" text-anchor="end" fill="#000" >150</text>
<line x1="250.7" y1="246.3" x2="250.7" y2="250.3" stroke="#000" stroke-width="1.2" />
<text x="252.5" y="256.7" font-size="7.5" font-weight="bold" text-anchor="end" fill="#000" transform="rotate(-45 252.5 256.7)" >0</text>
<line x1="269.85" y1="246.3" x2="269.85" y2="250.3" stroke="#000" stroke-width="1.2" />
<text x="271.65" y="256.7" font-size="7.5" font-weight="bold" text-anchor="end" fill="#000" transform="rotate(-45 271.65 256.7)" >2.1 &#215; 10<tspan font-size="5.5" dy="-2.2">-3</tspan></text>
<line x1="289" y1="246.3" x2="289" y2="250.3" stroke="#000" stroke-width="1.2" />
<text x="290.8" y="256.7" font-size="7.5" font-weight="bold" text-anchor="end" fill="#000" transform="rotate(-45 290.8 256.7)" >5.3 &#215; 10<tspan font-size="5.5" dy="-2.2">-2</tspan></text>
<line x1="308.15" y1="246.3" x2="308.15" y2="250.3" stroke="#000" stroke-width="1.2" />
<text x="309.95" y="256.7" font-size="7.5" font-weight="bold" text-anchor="end" fill="#000" transform="rotate(-45 309.95 256.7)" >1.3 &#215; 10<tspan font-size="5.5" dy="-2.2">0</tspan></text>
<line x1="327.3" y1="246.3" x2="327.3" y2="250.3" stroke="#000" stroke-width="1.2" />
<text x="329.1" y="256.7" font-size="7.5" font-weight="bold" text-anchor="end" fill="#000" transform="rotate(-45 329.1 256.7)" >3.3 &#215; 10<tspan font-size="5.5" dy="-2.2">1</tspan></text>
<text x="289" y="141" font-size="9.2" font-weight="bold" text-anchor="middle" fill="#000" textLength="85.7" lengthAdjust="spacingAndGlyphs">CFU assay (THP-1)</text>
<text x="214.6" y="195.8" font-size="8.3" font-weight="bold" text-anchor="middle" fill="#000" transform="rotate(-90 214.6 195.8)" >Normalized CFU number (%)</text>
<text x="273.5" y="290.9" font-size="7.2" font-weight="bold" text-anchor="middle" fill="#000" >Conc. (nmol/L)</text>
<polyline points="250.7,178.4 269.85,191.3 289,216.1 308.15,236 327.3,243.8" fill="none" stroke="#000" stroke-width="1.8" stroke-linejoin="round" />
<path d="M269.85 189.3L269.85 193.5M267.75 189.3L271.95 189.3M267.75 193.5L271.95 193.5" stroke="#000" stroke-width="0.9" fill="none"/>
<rect x="248.8" y="176.5" width="3.8" height="3.8" fill="#000"/>
<rect x="267.95" y="189.4" width="3.8" height="3.8" fill="#000"/>
<rect x="287.1" y="214.2" width="3.8" height="3.8" fill="#000"/>
<rect x="306.25" y="234.1" width="3.8" height="3.8" fill="#000"/>
<rect x="325.4" y="241.9" width="3.8" height="3.8" fill="#000"/>
<rect x="352.6" y="158.6" width="134" height="76.8" fill="#fff" stroke="#666" stroke-width="1"/>
<text x="377.8" y="171.2" font-size="8.55" font-weight="normal" text-anchor="start" fill="#111" stroke="#111" stroke-width="0.15">Anti-LILRB4 mAb</text>
<text x="377.8" y="185.7" font-size="8.55" font-weight="normal" text-anchor="start" fill="#111" stroke="#111" stroke-width="0.15">Anti-LILRB4 ADC DAR-4</text>
<text x="377.8" y="200.4" font-size="8.55" font-weight="normal" text-anchor="start" fill="#111" stroke="#111" stroke-width="0.15">Anti-LILRB4 ADC DAR-8</text>
<text x="377.8" y="214.9" font-size="8.55" font-weight="normal" text-anchor="start" fill="#111" stroke="#111" stroke-width="0.15">Nontargeting ADC DAR-4</text>
<text x="377.8" y="227.6" font-size="8.55" font-weight="normal" text-anchor="start" fill="#111" stroke="#111" stroke-width="0.15">MMAF alone</text>
<line x1="359.1" y1="168.5" x2="371.8" y2="168.5" stroke="#000" stroke-width="1.2" stroke-dasharray="2.4 1.2"/>
<circle cx="365.4" cy="168.5" r="2" fill="#fff" stroke="#000" stroke-width="1.3"/>
<line x1="359.1" y1="182.6" x2="371.8" y2="182.6" stroke="#000" stroke-width="1.8" />
<rect x="363.3" y="180.5" width="4.2" height="4.2" fill="#000"/>
<line x1="359.1" y1="197.8" x2="371.8" y2="197.8" stroke="#c9c9c9" stroke-width="1.0" />
<polygon points="363.4,199.4 367.4,199.4 365.4,195.8" fill="#c9c9c9"/>
<line x1="359.1" y1="212.1" x2="371.8" y2="212.1" stroke="#000" stroke-width="1.1" stroke-dasharray="1.1 1"/>
<polygon points="363.1,210.23 367.7,210.23 365.4,214.37" fill="#000"/>
<line x1="359.1" y1="225" x2="371.8" y2="225" stroke="#8c8c8c" stroke-width="0.9" />
<path d="M363.7 223.3L367.1 226.7M363.7 226.7L367.1 223.3" stroke="#8c8c8c" stroke-width="0.9" fill="none"/>
<rect x="32.5" y="328.6" width="11.4" height="40.18" fill="#000"/>
<rect x="32.85" y="368.78" width="10.7" height="24.55" fill="#b8b8b8" stroke="#000" stroke-width="0.7"/>
<rect x="32.85" y="393.33" width="10.7" height="9.67" fill="#fff" stroke="#000" stroke-width="0.7"/>
<path d="M38.2 328.6V327.71M35 327.71H41.4" stroke="#000" stroke-width="0.8" fill="none"/>
<path d="M38.2 368.78V369.22M35 369.22H41.4" stroke="#000" stroke-width="0.8" fill="none"/>
<line x1="35" y1="393.33" x2="41.4" y2="393.33" stroke="#000" stroke-width="1.2" />
<line x1="38.2" y1="403" x2="38.2" y2="406.6" stroke="#000" stroke-width="1.2" />
<text x="39.9" y="412.2" font-size="6.9" font-weight="bold" text-anchor="end" fill="#000" transform="rotate(-45 39.9 412.2)" >0</text>
<rect x="49.15" y="328.6" width="11.4" height="39.43" fill="#000"/>
<rect x="49.5" y="368.03" width="10.7" height="24.55" fill="#b8b8b8" stroke="#000" stroke-width="0.7"/>
<rect x="49.5" y="392.58" width="10.7" height="10.42" fill="#fff" stroke="#000" stroke-width="0.7"/>
<path d="M54.85 328.6V326.37M51.65 326.37H58.05" stroke="#000" stroke-width="0.8" fill="none"/>
<path d="M54.85 390.35L54.85 394.82M51.85 390.35L57.85 390.35M51.85 394.82L57.85 394.82" stroke="#000" stroke-width="0.8" fill="none"/>
<line x1="54.85" y1="403" x2="54.85" y2="406.6" stroke="#000" stroke-width="1.2" />
<text x="56.55" y="412.2" font-size="6.9" font-weight="bold" text-anchor="end" fill="#000" transform="rotate(-45 56.55 412.2)" >2.1 &#215; 10<tspan font-size="4.8" dy="-1.92">-3</tspan></text>
<rect x="65.8" y="328.6" width="11.4" height="35.71" fill="#000"/>
<rect x="66.15" y="364.31" width="10.7" height="29.76" fill="#b8b8b8" stroke="#000" stroke-width="0.7"/>
<rect x="66.15" y="394.07" width="10.7" height="8.93" fill="#fff" stroke="#000" stroke-width="0.7"/>
<path d="M71.5 328.6V326.22M68.3 326.22H74.7" stroke="#000" stroke-width="0.8" fill="none"/>
<path d="M71.5 364.31V365.8M68.3 365.8H74.7" stroke="#000" stroke-width="0.8" fill="none"/>
<line x1="68.3" y1="394.07" x2="74.7" y2="394.07" stroke="#000" stroke-width="2.0" />
<line x1="71.5" y1="403" x2="71.5" y2="406.6" stroke="#000" stroke-width="1.2" />
<text x="73.2" y="412.2" font-size="6.9" font-weight="bold" text-anchor="end" fill="#000" transform="rotate(-45 73.2 412.2)" >5.3 &#215; 10<tspan font-size="4.8" dy="-1.92">-2</tspan></text>
<rect x="82.45" y="328.6" width="11.4" height="39.43" fill="#000"/>
<rect x="82.8" y="368.03" width="10.7" height="26.04" fill="#b8b8b8" stroke="#000" stroke-width="0.7"/>
<rect x="82.8" y="394.07" width="10.7" height="8.93" fill="#fff" stroke="#000" stroke-width="0.7"/>
<path d="M88.15 328.6V326.67M84.95 326.67H91.35" stroke="#000" stroke-width="0.8" fill="none"/>
<path d="M88.15 368.03V368.4M84.95 368.4H91.35" stroke="#000" stroke-width="0.8" fill="none"/>
<line x1="84.95" y1="394.07" x2="91.35" y2="394.07" stroke="#000" stroke-width="2.0" />
<line x1="88.15" y1="403" x2="88.15" y2="406.6" stroke="#000" stroke-width="1.2" />
<text x="89.85" y="412.2" font-size="6.9" font-weight="bold" text-anchor="end" fill="#000" transform="rotate(-45 89.85 412.2)" >1.3 &#215; 10<tspan font-size="4.8" dy="-1.92">0</tspan></text>
<rect x="99.1" y="328.6" width="11.4" height="36.46" fill="#000"/>
<rect x="99.45" y="365.06" width="10.7" height="28.27" fill="#b8b8b8" stroke="#000" stroke-width="0.7"/>
<rect x="99.45" y="393.33" width="10.7" height="9.67" fill="#fff" stroke="#000" stroke-width="0.7"/>
<path d="M104.8 328.6V324.51M101.6 324.51H108" stroke="#000" stroke-width="0.8" fill="none"/>
<path d="M104.8 365.06V366.92M101.6 366.92H108" stroke="#000" stroke-width="0.8" fill="none"/>
<path d="M104.8 391.39L104.8 395.26M101.8 391.39L107.8 391.39M101.8 395.26L107.8 395.26" stroke="#000" stroke-width="0.8" fill="none"/>
<line x1="104.8" y1="403" x2="104.8" y2="406.6" stroke="#000" stroke-width="1.2" />
<text x="106.5" y="412.2" font-size="6.9" font-weight="bold" text-anchor="end" fill="#000" transform="rotate(-45 106.5 412.2)" >3.3 &#215; 10<tspan font-size="4.8" dy="-1.92">1</tspan></text>
<line x1="27" y1="313.9" x2="27" y2="403.6" stroke="#000" stroke-width="1.2" />
<line x1="26.4" y1="403" x2="115" y2="403" stroke="#000" stroke-width="1.2" />
<line x1="22.5" y1="403" x2="27" y2="403" stroke="#000" stroke-width="1.2" />
<text x="21" y="405.4" font-size="6.7" font-weight="bold" text-anchor="end" fill="#000" >0</text>
<line x1="22.5" y1="365.8" x2="27" y2="365.8" stroke="#000" stroke-width="1.2" />
<text x="21" y="368.2" font-size="6.7" font-weight="bold" text-anchor="end" fill="#000" >50</text>
<line x1="22.5" y1="328.6" x2="27" y2="328.6" stroke="#000" stroke-width="1.2" />
<text x="21" y="331" font-size="6.7" font-weight="bold" text-anchor="end" fill="#000" >100</text>
<text x="73" y="310.45" font-size="8.5" font-weight="bold" text-anchor="middle" fill="#000" >Anti-LILRB4 mAb</text>
<text x="6.1" y="358.55" font-size="7.25" font-weight="bold" text-anchor="middle" fill="#000" transform="rotate(-90 6.1 358.55)" >CFU number (%)</text>
<text x="72.5" y="443.6" font-size="7.2" font-weight="bold" text-anchor="middle" fill="#000" >Conc. (nmol/L)</text>
<rect x="151" y="329.3" width="11.4" height="40.18" fill="#000"/>
<rect x="151.35" y="369.48" width="10.7" height="24.55" fill="#b8b8b8" stroke="#000" stroke-width="0.7"/>
<rect x="151.35" y="394.03" width="10.7" height="9.67" fill="#fff" stroke="#000" stroke-width="0.7"/>
<path d="M156.7 329.3V328.41M153.5 328.41H159.9" stroke="#000" stroke-width="0.8" fill="none"/>
<path d="M156.7 369.48V369.92M153.5 369.92H159.9" stroke="#000" stroke-width="0.8" fill="none"/>
<line x1="153.5" y1="394.03" x2="159.9" y2="394.03" stroke="#000" stroke-width="1.2" />
<line x1="156.7" y1="403.7" x2="156.7" y2="407.3" stroke="#000" stroke-width="1.2" />
<text x="158.4" y="412.9" font-size="6.9" font-weight="bold" text-anchor="end" fill="#000" transform="rotate(-45 158.4 412.9)" >0</text>
<rect x="167.65" y="329.3" width="11.4" height="40.92" fill="#000"/>
<rect x="168" y="370.22" width="10.7" height="23.81" fill="#b8b8b8" stroke="#000" stroke-width="0.7"/>
<rect x="168" y="394.03" width="10.7" height="9.67" fill="#fff" stroke="#000" stroke-width="0.7"/>
<path d="M173.35 329.3V327.96M170.15 327.96H176.55" stroke="#000" stroke-width="0.8" fill="none"/>
<path d="M173.35 370.22V371.34M170.15 371.34H176.55" stroke="#000" stroke-width="0.8" fill="none"/>
<line x1="170.15" y1="394.03" x2="176.55" y2="394.03" stroke="#000" stroke-width="2.0" />
<line x1="173.35" y1="403.7" x2="173.35" y2="407.3" stroke="#000" stroke-width="1.2" />
<text x="175.05" y="412.9" font-size="6.9" font-weight="bold" text-anchor="end" fill="#000" transform="rotate(-45 175.05 412.9)" >2.1 &#215; 10<tspan font-size="4.8" dy="-1.92">-3</tspan></text>
<rect x="184.3" y="329.3" width="11.4" height="38.69" fill="#000"/>
<rect x="184.65" y="367.99" width="10.7" height="27.53" fill="#b8b8b8" stroke="#000" stroke-width="0.7"/>
<rect x="184.65" y="395.52" width="10.7" height="8.18" fill="#fff" stroke="#000" stroke-width="0.7"/>
<path d="M190 329.3V326.47M186.8 326.47H193.2" stroke="#000" stroke-width="0.8" fill="none"/>
<path d="M190 367.99V369.48M186.8 369.48H193.2" stroke="#000" stroke-width="0.8" fill="none"/>
<line x1="186.8" y1="395.52" x2="193.2" y2="395.52" stroke="#000" stroke-width="2.0" />
<line x1="190" y1="403.7" x2="190" y2="407.3" stroke="#000" stroke-width="1.2" />
<text x="191.7" y="412.9" font-size="6.9" font-weight="bold" text-anchor="end" fill="#000" transform="rotate(-45 191.7 412.9)" >5.3 &#215; 10<tspan font-size="4.8" dy="-1.92">-2</tspan></text>
<rect x="200.95" y="329.3" width="11.4" height="34.97" fill="#000"/>
<rect x="201.3" y="364.27" width="10.7" height="29.02" fill="#b8b8b8" stroke="#000" stroke-width="0.7"/>
<rect x="201.3" y="393.28" width="10.7" height="10.42" fill="#fff" stroke="#000" stroke-width="0.7"/>
<path d="M206.65 329.3V327.81M203.45 327.81H209.85" stroke="#000" stroke-width="0.8" fill="none"/>
<path d="M206.65 364.27V364.64M203.45 364.64H209.85" stroke="#000" stroke-width="0.8" fill="none"/>
<path d="M206.65 391.42L206.65 395.14M203.65 391.42L209.65 391.42M203.65 395.14L209.65 395.14" stroke="#000" stroke-width="0.8" fill="none"/>
<line x1="206.65" y1="403.7" x2="206.65" y2="407.3" stroke="#000" stroke-width="1.2" />
<text x="208.35" y="412.9" font-size="6.9" font-weight="bold" text-anchor="end" fill="#000" transform="rotate(-45 208.35 412.9)" >1.3 &#215; 10<tspan font-size="4.8" dy="-1.92">0</tspan></text>
<rect x="217.6" y="329.3" width="11.4" height="39.43" fill="#000"/>
<rect x="217.95" y="368.73" width="10.7" height="26.78" fill="#b8b8b8" stroke="#000" stroke-width="0.7"/>
<rect x="217.95" y="395.52" width="10.7" height="8.18" fill="#fff" stroke="#000" stroke-width="0.7"/>
<path d="M223.3 329.3V327.81M220.1 327.81H226.5" stroke="#000" stroke-width="0.8" fill="none"/>
<path d="M223.3 368.73V370.37M220.1 370.37H226.5" stroke="#000" stroke-width="0.8" fill="none"/>
<path d="M223.3 393.51L223.3 397.52M220.3 393.51L226.3 393.51M220.3 397.52L226.3 397.52" stroke="#000" stroke-width="0.8" fill="none"/>
<line x1="223.3" y1="403.7" x2="223.3" y2="407.3" stroke="#000" stroke-width="1.2" />
<text x="225" y="412.9" font-size="6.9" font-weight="bold" text-anchor="end" fill="#000" transform="rotate(-45 225 412.9)" >3.3 &#215; 10<tspan font-size="4.8" dy="-1.92">1</tspan></text>
<line x1="145.1" y1="314.6" x2="145.1" y2="404.3" stroke="#000" stroke-width="1.2" />
<line x1="144.5" y1="403.7" x2="233" y2="403.7" stroke="#000" stroke-width="1.2" />
<line x1="140.6" y1="403.7" x2="145.1" y2="403.7" stroke="#000" stroke-width="1.2" />
<text x="139.1" y="406.1" font-size="6.7" font-weight="bold" text-anchor="end" fill="#000" >0</text>
<line x1="140.6" y1="366.5" x2="145.1" y2="366.5" stroke="#000" stroke-width="1.2" />
<text x="139.1" y="368.9" font-size="6.7" font-weight="bold" text-anchor="end" fill="#000" >50</text>
<line x1="140.6" y1="329.3" x2="145.1" y2="329.3" stroke="#000" stroke-width="1.2" />
<text x="139.1" y="331.7" font-size="6.7" font-weight="bold" text-anchor="end" fill="#000" >100</text>
<text x="192.5" y="310.8" font-size="8.5" font-weight="bold" text-anchor="middle" fill="#000" >Anti-LILRB4 ADC DAR-4</text>
<text x="124.1" y="358.9" font-size="7.25" font-weight="bold" text-anchor="middle" fill="#000" transform="rotate(-90 124.1 358.9)" >CFU number (%)</text>
<text x="194.5" y="443.6" font-size="7.2" font-weight="bold" text-anchor="middle" fill="#000" >Conc. (nmol/L)</text>
<rect x="270.5" y="329.2" width="11.4" height="40.18" fill="#000"/>
<rect x="270.85" y="369.38" width="10.7" height="25.3" fill="#b8b8b8" stroke="#000" stroke-width="0.7"/>
<rect x="270.85" y="394.67" width="10.7" height="8.93" fill="#fff" stroke="#000" stroke-width="0.7"/>
<path d="M276.2 329.2V328.31M273 328.31H279.4" stroke="#000" stroke-width="0.8" fill="none"/>
<path d="M276.2 369.38V369.82M273 369.82H279.4" stroke="#000" stroke-width="0.8" fill="none"/>
<line x1="273" y1="394.67" x2="279.4" y2="394.67" stroke="#000" stroke-width="1.2" />
<line x1="276.2" y1="403.6" x2="276.2" y2="407.2" stroke="#000" stroke-width="1.2" />
<text x="277.9" y="412.8" font-size="6.9" font-weight="bold" text-anchor="end" fill="#000" transform="rotate(-45 277.9 412.8)" >0</text>
<rect x="287.15" y="329.2" width="11.4" height="36.46" fill="#000"/>
<rect x="287.5" y="365.66" width="10.7" height="31.25" fill="#b8b8b8" stroke="#000" stroke-width="0.7"/>
<rect x="287.5" y="396.9" width="10.7" height="6.7" fill="#fff" stroke="#000" stroke-width="0.7"/>
<path d="M292.85 329.2V327.86M289.65 327.86H296.05" stroke="#000" stroke-width="0.8" fill="none"/>
<path d="M292.85 365.66V367.14M289.65 367.14H296.05" stroke="#000" stroke-width="0.8" fill="none"/>
<path d="M292.85 395.42L292.85 398.39M289.85 395.42L295.85 395.42M289.85 398.39L295.85 398.39" stroke="#000" stroke-width="0.8" fill="none"/>
<line x1="292.85" y1="403.6" x2="292.85" y2="407.2" stroke="#000" stroke-width="1.2" />
<text x="294.55" y="412.8" font-size="6.9" font-weight="bold" text-anchor="end" fill="#000" transform="rotate(-45 294.55 412.8)" >2.1 &#215; 10<tspan font-size="4.8" dy="-1.92">-3</tspan></text>
<rect x="303.8" y="329.2" width="11.4" height="39.43" fill="#000"/>
<rect x="304.15" y="368.63" width="10.7" height="27.53" fill="#b8b8b8" stroke="#000" stroke-width="0.7"/>
<rect x="304.15" y="396.16" width="10.7" height="7.44" fill="#fff" stroke="#000" stroke-width="0.7"/>
<path d="M309.5 329.2V326.08M306.3 326.08H312.7" stroke="#000" stroke-width="0.8" fill="none"/>
<path d="M309.5 368.63V369.97M306.3 369.97H312.7" stroke="#000" stroke-width="0.8" fill="none"/>
<path d="M309.5 394.82L309.5 397.5M306.5 394.82L312.5 394.82M306.5 397.5L312.5 397.5" stroke="#000" stroke-width="0.8" fill="none"/>
<line x1="309.5" y1="403.6" x2="309.5" y2="407.2" stroke="#000" stroke-width="1.2" />
<text x="311.2" y="412.8" font-size="6.9" font-weight="bold" text-anchor="end" fill="#000" transform="rotate(-45 311.2 412.8)" >5.3 &#215; 10<tspan font-size="4.8" dy="-1.92">-2</tspan></text>
<rect x="320.45" y="329.2" width="11.4" height="34.97" fill="#000"/>
<rect x="320.8" y="364.17" width="10.7" height="31.99" fill="#b8b8b8" stroke="#000" stroke-width="0.7"/>
<rect x="320.8" y="396.16" width="10.7" height="7.44" fill="#fff" stroke="#000" stroke-width="0.7"/>
<path d="M326.15 329.2V328.31M322.95 328.31H329.35" stroke="#000" stroke-width="0.8" fill="none"/>
<path d="M326.15 364.17V365.51M322.95 365.51H329.35" stroke="#000" stroke-width="0.8" fill="none"/>
<path d="M326.15 393.93L326.15 398.39M323.15 393.93L329.15 393.93M323.15 398.39L329.15 398.39" stroke="#000" stroke-width="0.8" fill="none"/>
<line x1="326.15" y1="403.6" x2="326.15" y2="407.2" stroke="#000" stroke-width="1.2" />
<text x="327.85" y="412.8" font-size="6.9" font-weight="bold" text-anchor="end" fill="#000" transform="rotate(-45 327.85 412.8)" >1.3 &#215; 10<tspan font-size="4.8" dy="-1.92">0</tspan></text>
<rect x="337.1" y="329.2" width="11.4" height="40.18" fill="#000"/>
<rect x="337.45" y="369.38" width="10.7" height="25.3" fill="#b8b8b8" stroke="#000" stroke-width="0.7"/>
<rect x="337.45" y="394.67" width="10.7" height="8.93" fill="#fff" stroke="#000" stroke-width="0.7"/>
<path d="M342.8 329.2V324.36M339.6 324.36H346" stroke="#000" stroke-width="0.8" fill="none"/>
<path d="M342.8 369.38V371.61M339.6 371.61H346" stroke="#000" stroke-width="0.8" fill="none"/>
<path d="M342.8 392.66L342.8 396.68M339.8 392.66L345.8 392.66M339.8 396.68L345.8 396.68" stroke="#000" stroke-width="0.8" fill="none"/>
<line x1="342.8" y1="403.6" x2="342.8" y2="407.2" stroke="#000" stroke-width="1.2" />
<text x="344.5" y="412.8" font-size="6.9" font-weight="bold" text-anchor="end" fill="#000" transform="rotate(-45 344.5 412.8)" >3.3 &#215; 10<tspan font-size="4.8" dy="-1.92">1</tspan></text>
<line x1="265.5" y1="314.5" x2="265.5" y2="404.2" stroke="#000" stroke-width="1.2" />
<line x1="264.9" y1="403.6" x2="353" y2="403.6" stroke="#000" stroke-width="1.2" />
<line x1="261" y1="403.6" x2="265.5" y2="403.6" stroke="#000" stroke-width="1.2" />
<text x="259.5" y="406" font-size="6.7" font-weight="bold" text-anchor="end" fill="#000" >0</text>
<line x1="261" y1="366.4" x2="265.5" y2="366.4" stroke="#000" stroke-width="1.2" />
<text x="259.5" y="368.8" font-size="6.7" font-weight="bold" text-anchor="end" fill="#000" >50</text>
<line x1="261" y1="329.2" x2="265.5" y2="329.2" stroke="#000" stroke-width="1.2" />
<text x="259.5" y="331.6" font-size="6.7" font-weight="bold" text-anchor="end" fill="#000" >100</text>
<text x="312" y="310.75" font-size="8.5" font-weight="bold" text-anchor="middle" fill="#000" >Anti-LILRB4 ADC DAR-8</text>
<text x="244.1" y="358.85" font-size="7.25" font-weight="bold" text-anchor="middle" fill="#000" transform="rotate(-90 244.1 358.85)" >CFU number (%)</text>
<text x="316" y="443.6" font-size="7.2" font-weight="bold" text-anchor="middle" fill="#000" >Conc. (nmol/L)</text>
<rect x="389" y="329.4" width="11.4" height="40.18" fill="#000"/>
<rect x="389.35" y="369.58" width="10.7" height="25.3" fill="#b8b8b8" stroke="#000" stroke-width="0.7"/>
<rect x="389.35" y="394.87" width="10.7" height="8.93" fill="#fff" stroke="#000" stroke-width="0.7"/>
<path d="M394.7 329.4V328.51M391.5 328.51H397.9" stroke="#000" stroke-width="0.8" fill="none"/>
<path d="M394.7 369.58V370.02M391.5 370.02H397.9" stroke="#000" stroke-width="0.8" fill="none"/>
<line x1="391.5" y1="394.87" x2="397.9" y2="394.87" stroke="#000" stroke-width="1.2" />
<line x1="394.7" y1="403.8" x2="394.7" y2="407.4" stroke="#000" stroke-width="1.2" />
<text x="396.4" y="413" font-size="6.9" font-weight="bold" text-anchor="end" fill="#000" transform="rotate(-45 396.4 413)" >0</text>
<rect x="405.65" y="329.4" width="11.4" height="37.2" fill="#000"/>
<rect x="406" y="366.6" width="10.7" height="29.02" fill="#b8b8b8" stroke="#000" stroke-width="0.7"/>
<rect x="406" y="395.62" width="10.7" height="8.18" fill="#fff" stroke="#000" stroke-width="0.7"/>
<path d="M411.35 329.4V327.17M408.15 327.17H414.55" stroke="#000" stroke-width="0.8" fill="none"/>
<path d="M411.35 366.6V366.97M408.15 366.97H414.55" stroke="#000" stroke-width="0.8" fill="none"/>
<path d="M411.35 393.61L411.35 397.62M408.35 393.61L414.35 393.61M408.35 397.62L414.35 397.62" stroke="#000" stroke-width="0.8" fill="none"/>
<line x1="411.35" y1="403.8" x2="411.35" y2="407.4" stroke="#000" stroke-width="1.2" />
<text x="413.05" y="413" font-size="6.9" font-weight="bold" text-anchor="end" fill="#000" transform="rotate(-45 413.05 413)" >2.1 &#215; 10<tspan font-size="4.8" dy="-1.92">-3</tspan></text>
<rect x="422.3" y="329.4" width="11.4" height="39.43" fill="#000"/>
<rect x="422.65" y="368.83" width="10.7" height="27.53" fill="#b8b8b8" stroke="#000" stroke-width="0.7"/>
<rect x="422.65" y="396.36" width="10.7" height="7.44" fill="#fff" stroke="#000" stroke-width="0.7"/>
<path d="M428 329.4V327.17M424.8 327.17H431.2" stroke="#000" stroke-width="0.8" fill="none"/>
<path d="M428 368.83V370.17M424.8 370.17H431.2" stroke="#000" stroke-width="0.8" fill="none"/>
<line x1="424.8" y1="396.36" x2="431.2" y2="396.36" stroke="#000" stroke-width="2.0" />
<line x1="428" y1="403.8" x2="428" y2="407.4" stroke="#000" stroke-width="1.2" />
<text x="429.7" y="413" font-size="6.9" font-weight="bold" text-anchor="end" fill="#000" transform="rotate(-45 429.7 413)" >5.3 &#215; 10<tspan font-size="4.8" dy="-1.92">-2</tspan></text>
<rect x="438.95" y="329.4" width="11.4" height="37.94" fill="#000"/>
<rect x="439.3" y="367.34" width="10.7" height="29.02" fill="#b8b8b8" stroke="#000" stroke-width="0.7"/>
<rect x="439.3" y="396.36" width="10.7" height="7.44" fill="#fff" stroke="#000" stroke-width="0.7"/>
<path d="M444.65 329.4V327.17M441.45 327.17H447.85" stroke="#000" stroke-width="0.8" fill="none"/>
<path d="M444.65 367.34V367.79M441.45 367.79H447.85" stroke="#000" stroke-width="0.8" fill="none"/>
<line x1="441.45" y1="396.36" x2="447.85" y2="396.36" stroke="#000" stroke-width="2.0" />
<line x1="444.65" y1="403.8" x2="444.65" y2="407.4" stroke="#000" stroke-width="1.2" />
<text x="446.35" y="413" font-size="6.9" font-weight="bold" text-anchor="end" fill="#000" transform="rotate(-45 446.35 413)" >1.3 &#215; 10<tspan font-size="4.8" dy="-1.92">0</tspan></text>
<rect x="455.6" y="329.4" width="11.4" height="37.2" fill="#000"/>
<rect x="455.95" y="366.6" width="10.7" height="29.76" fill="#b8b8b8" stroke="#000" stroke-width="0.7"/>
<rect x="455.95" y="396.36" width="10.7" height="7.44" fill="#fff" stroke="#000" stroke-width="0.7"/>
<path d="M461.3 329.4V327.61M458.1 327.61H464.5" stroke="#000" stroke-width="0.8" fill="none"/>
<path d="M461.3 366.6V367.05M458.1 367.05H464.5" stroke="#000" stroke-width="0.8" fill="none"/>
<path d="M461.3 394.87L461.3 397.85M458.3 394.87L464.3 394.87M458.3 397.85L464.3 397.85" stroke="#000" stroke-width="0.8" fill="none"/>
<line x1="461.3" y1="403.8" x2="461.3" y2="407.4" stroke="#000" stroke-width="1.2" />
<text x="463" y="413" font-size="6.9" font-weight="bold" text-anchor="end" fill="#000" transform="rotate(-45 463 413)" >3.3 &#215; 10<tspan font-size="4.8" dy="-1.92">1</tspan></text>
<line x1="383.7" y1="314.7" x2="383.7" y2="404.4" stroke="#000" stroke-width="1.2" />
<line x1="383.1" y1="403.8" x2="471.5" y2="403.8" stroke="#000" stroke-width="1.2" />
<line x1="379.2" y1="403.8" x2="383.7" y2="403.8" stroke="#000" stroke-width="1.2" />
<text x="377.7" y="406.2" font-size="6.7" font-weight="bold" text-anchor="end" fill="#000" >0</text>
<line x1="379.2" y1="366.6" x2="383.7" y2="366.6" stroke="#000" stroke-width="1.2" />
<text x="377.7" y="369" font-size="6.7" font-weight="bold" text-anchor="end" fill="#000" >50</text>
<line x1="379.2" y1="329.4" x2="383.7" y2="329.4" stroke="#000" stroke-width="1.2" />
<text x="377.7" y="331.8" font-size="6.7" font-weight="bold" text-anchor="end" fill="#000" >100</text>
<text x="429" y="310.85" font-size="8.5" font-weight="bold" text-anchor="middle" fill="#000" >Nontargeting ADC DAR-4</text>
<text x="362.6" y="358.95" font-size="7.25" font-weight="bold" text-anchor="middle" fill="#000" transform="rotate(-90 362.6 358.95)" >CFU number (%)</text>
<text x="430" y="443.6" font-size="7.2" font-weight="bold" text-anchor="middle" fill="#000" >Conc. (nmol/L)</text>
<rect x="475" y="344.4" width="50" height="36" fill="#fff" stroke="#666" stroke-width="0.9"/>
<rect x="478.9" y="347" width="10" height="5.2" fill="#000" stroke="#444" stroke-width="0.7"/>
<text x="494" y="352.2" font-size="7.5" font-weight="normal" text-anchor="start" fill="#222" stroke="#222" stroke-width="0.12">GM</text>
<rect x="478.9" y="360.3" width="10" height="5.2" fill="#b8b8b8" stroke="#444" stroke-width="0.7"/>
<text x="494" y="365.5" font-size="7.5" font-weight="normal" text-anchor="start" fill="#222" stroke="#222" stroke-width="0.12">GEMM</text>
<rect x="478.9" y="372.8" width="10" height="5.2" fill="#fff" stroke="#444" stroke-width="0.7"/>
<text x="494" y="378" font-size="7.5" font-weight="normal" text-anchor="start" fill="#222" stroke="#222" stroke-width="0.12">BFU-E</text>
</svg>
</body>
</html>
